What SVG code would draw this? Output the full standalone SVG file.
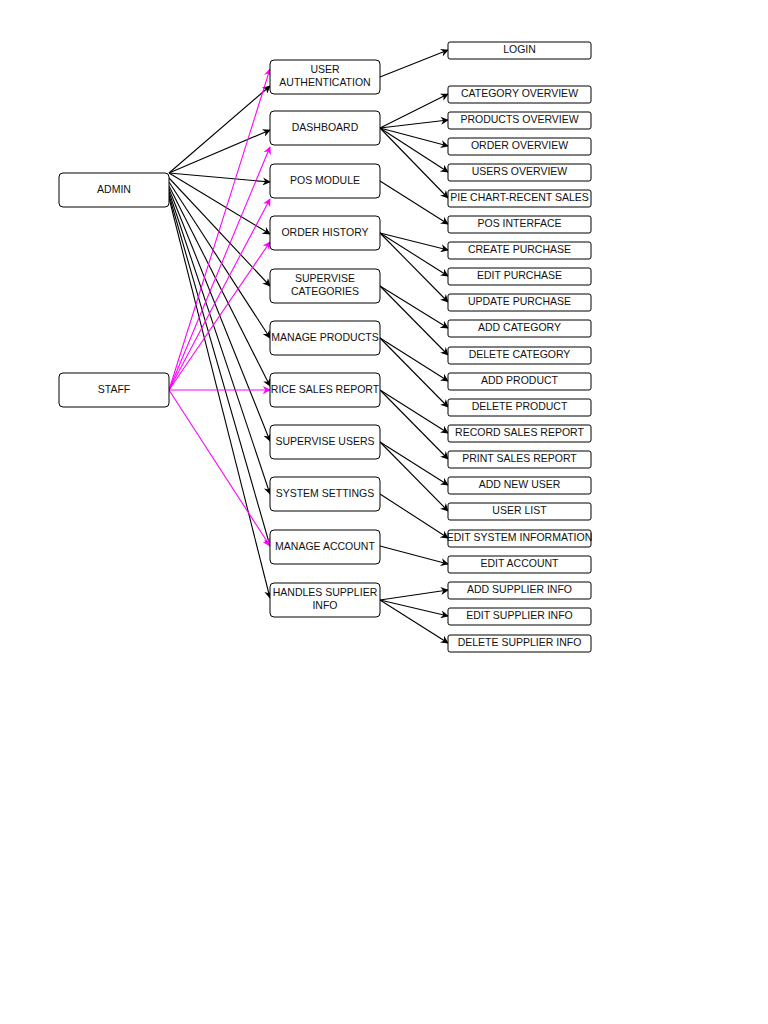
<svg xmlns="http://www.w3.org/2000/svg" width="768" height="1024" viewBox="0 0 768 1024">
<style>
rect{fill:#fff;stroke:#000;stroke-width:1}
text{font-family:"Liberation Sans",Arial,sans-serif;font-size:10.5px;text-anchor:middle;dominant-baseline:middle;fill:#111}
.b line{stroke:#000;stroke-width:1.1;marker-end:url(#ab)}
.m line{stroke:#f0f;stroke-width:1.1;marker-end:url(#am)}
</style>
<defs>
<marker id="ab" viewBox="0 0 10 10" refX="9" refY="5" markerWidth="8" markerHeight="8" orient="auto" markerUnits="userSpaceOnUse"><path d="M0,0 L10,5 L0,10 L3,5Z" fill="#000"/></marker>
<marker id="am" viewBox="0 0 10 10" refX="9" refY="5" markerWidth="8" markerHeight="8" orient="auto" markerUnits="userSpaceOnUse"><path d="M0,0 L10,5 L0,10 L3,5Z" fill="#f0f"/></marker>
</defs>
<rect width="768" height="1024" style="stroke:none"/>
<g id="connectors">
<g class="b">
<line x1="169" y1="173" x2="270" y2="86"/>
<line x1="169" y1="173" x2="270" y2="130"/>
<line x1="169" y1="173" x2="270" y2="182"/>
<line x1="169" y1="173" x2="270" y2="234"/>
<line x1="169" y1="178" x2="270" y2="286"/>
<line x1="169" y1="182" x2="270" y2="338"/>
<line x1="169" y1="186" x2="270" y2="386"/>
<line x1="169" y1="189" x2="270" y2="441"/>
<line x1="169" y1="192" x2="270" y2="494"/>
<line x1="169" y1="195" x2="270" y2="546"/>
<line x1="169" y1="198" x2="270" y2="598"/>
<line x1="380" y1="77" x2="448" y2="50"/>
<line x1="380" y1="128" x2="448" y2="94"/>
<line x1="380" y1="128" x2="448" y2="120"/>
<line x1="380" y1="128" x2="448" y2="146"/>
<line x1="380" y1="128" x2="448" y2="172"/>
<line x1="380" y1="128" x2="448" y2="198"/>
<line x1="380" y1="181" x2="448" y2="224"/>
<line x1="380" y1="233" x2="448" y2="250"/>
<line x1="380" y1="233" x2="448" y2="276"/>
<line x1="380" y1="233" x2="448" y2="302"/>
<line x1="380" y1="286" x2="448" y2="328"/>
<line x1="380" y1="286" x2="448" y2="355"/>
<line x1="380" y1="338" x2="448" y2="381"/>
<line x1="380" y1="338" x2="448" y2="407"/>
<line x1="380" y1="390" x2="448" y2="433"/>
<line x1="380" y1="390" x2="448" y2="459"/>
<line x1="380" y1="442" x2="448" y2="485"/>
<line x1="380" y1="442" x2="448" y2="511"/>
<line x1="380" y1="494" x2="448" y2="538"/>
<line x1="380" y1="546" x2="448" y2="564"/>
<line x1="380" y1="600" x2="448" y2="590"/>
<line x1="380" y1="600" x2="448" y2="616"/>
<line x1="380" y1="600" x2="448" y2="643"/>
</g>
<g class="m">
<line x1="169" y1="390" x2="270" y2="69"/>
<line x1="169" y1="390" x2="270" y2="147"/>
<line x1="169" y1="390" x2="270" y2="199"/>
<line x1="169" y1="390" x2="270" y2="242"/>
<line x1="169" y1="390" x2="270" y2="390"/>
<line x1="169" y1="390" x2="270" y2="546"/>
</g>
</g>
<g id="admin"><rect x="59" y="173" width="110" height="34" rx="4"/><text x="114" y="190">ADMIN</text></g>
<g id="staff"><rect x="59" y="373" width="110" height="34" rx="4"/><text x="114" y="390">STAFF</text></g>
<g id="user-auth"><rect x="270" y="60" width="110" height="34" rx="4"/><text x="325" y="70">USER</text><text x="325" y="83">AUTHENTICATION</text></g>
<g id="dashboard"><rect x="270" y="111" width="110" height="34" rx="4"/><text x="325" y="128">DASHBOARD</text></g>
<g id="pos-module"><rect x="270" y="164" width="110" height="34" rx="4"/><text x="325" y="181">POS MODULE</text></g>
<g id="order-history"><rect x="270" y="216" width="110" height="34" rx="4"/><text x="325" y="233">ORDER HISTORY</text></g>
<g id="supervise-categories"><rect x="270" y="269" width="110" height="34" rx="4"/><text x="325" y="279">SUPERVISE</text><text x="325" y="292">CATEGORIES</text></g>
<g id="manage-products"><rect x="270" y="321" width="110" height="34" rx="4"/><text x="325" y="338">MANAGE PRODUCTS</text></g>
<g id="rice-sales-report"><rect x="270" y="373" width="110" height="34" rx="4"/><text x="325" y="390">RICE SALES REPORT</text></g>
<g id="supervise-users"><rect x="270" y="425" width="110" height="34" rx="4"/><text x="325" y="442">SUPERVISE USERS</text></g>
<g id="system-settings"><rect x="270" y="477" width="110" height="34" rx="4"/><text x="325" y="494">SYSTEM SETTINGS</text></g>
<g id="manage-account"><rect x="270" y="530" width="110" height="34" rx="4"/><text x="325" y="547">MANAGE ACCOUNT</text></g>
<g id="handles-supplier"><rect x="270" y="583" width="110" height="34" rx="4"/><text x="325" y="593">HANDLES SUPPLIER</text><text x="325" y="606">INFO</text></g>
<g id="login"><rect x="448" y="42" width="143" height="17" rx="2"/><text x="519.5" y="50.5">LOGIN</text></g>
<g id="cat-overview"><rect x="448" y="86" width="143" height="17" rx="2"/><text x="519.5" y="94.5">CATEGORY OVERVIEW</text></g>
<g id="prod-overview"><rect x="448" y="112" width="143" height="17" rx="2"/><text x="519.5" y="120.5">PRODUCTS OVERVIEW</text></g>
<g id="order-overview"><rect x="448" y="138" width="143" height="17" rx="2"/><text x="519.5" y="146.5">ORDER OVERVIEW</text></g>
<g id="users-overview"><rect x="448" y="164" width="143" height="17" rx="2"/><text x="519.5" y="172.5">USERS OVERVIEW</text></g>
<g id="pie-chart"><rect x="448" y="190" width="143" height="17" rx="2"/><text x="519.5" y="198.5">PIE CHART-RECENT SALES</text></g>
<g id="pos-interface"><rect x="448" y="216" width="143" height="17" rx="2"/><text x="519.5" y="224.5">POS INTERFACE</text></g>
<g id="create-purchase"><rect x="448" y="242" width="143" height="17" rx="2"/><text x="519.5" y="250.5">CREATE PURCHASE</text></g>
<g id="edit-purchase"><rect x="448" y="268" width="143" height="17" rx="2"/><text x="519.5" y="276.5">EDIT PURCHASE</text></g>
<g id="update-purchase"><rect x="448" y="294" width="143" height="17" rx="2"/><text x="519.5" y="302.5">UPDATE PURCHASE</text></g>
<g id="add-category"><rect x="448" y="320" width="143" height="17" rx="2"/><text x="519.5" y="328.5">ADD CATEGORY</text></g>
<g id="delete-category"><rect x="448" y="347" width="143" height="17" rx="2"/><text x="519.5" y="355.5">DELETE CATEGORY</text></g>
<g id="add-product"><rect x="448" y="373" width="143" height="17" rx="2"/><text x="519.5" y="381.5">ADD PRODUCT</text></g>
<g id="delete-product"><rect x="448" y="399" width="143" height="17" rx="2"/><text x="519.5" y="407.5">DELETE PRODUCT</text></g>
<g id="record-sales"><rect x="448" y="425" width="143" height="17" rx="2"/><text x="519.5" y="433.5">RECORD SALES REPORT</text></g>
<g id="print-sales"><rect x="448" y="451" width="143" height="17" rx="2"/><text x="519.5" y="459.5">PRINT SALES REPORT</text></g>
<g id="add-user"><rect x="448" y="477" width="143" height="17" rx="2"/><text x="519.5" y="485.5">ADD NEW USER</text></g>
<g id="user-list"><rect x="448" y="503" width="143" height="17" rx="2"/><text x="519.5" y="511.5">USER LIST</text></g>
<g id="edit-system"><rect x="448" y="530" width="143" height="17" rx="2"/><text x="519.5" y="538.5">EDIT SYSTEM INFORMATION</text></g>
<g id="edit-account"><rect x="448" y="556" width="143" height="17" rx="2"/><text x="519.5" y="564.5">EDIT ACCOUNT</text></g>
<g id="add-supplier"><rect x="448" y="582" width="143" height="17" rx="2"/><text x="519.5" y="590.5">ADD SUPPLIER INFO</text></g>
<g id="edit-supplier"><rect x="448" y="608" width="143" height="17" rx="2"/><text x="519.5" y="616.5">EDIT SUPPLIER INFO</text></g>
<g id="delete-supplier"><rect x="448" y="635" width="143" height="17" rx="2"/><text x="519.5" y="643.5">DELETE SUPPLIER INFO</text></g>
</svg>
